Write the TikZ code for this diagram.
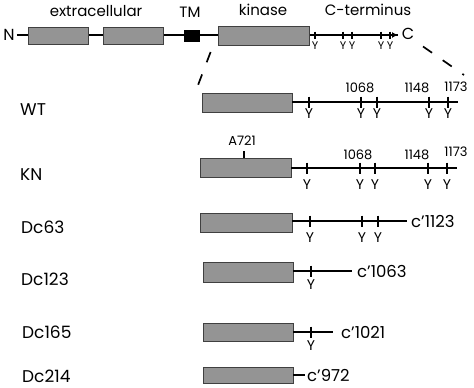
\documentclass[tikz,border=0pt]{standalone}
\usepackage{fontspec}
\setmainfont{Poppins}
\usetikzlibrary{arrows.meta}
\begin{document}
\begin{tikzpicture}[x=1pt,y=-1pt,
  dom/.style={draw=black!75,line width=0.6pt,fill=black!42,inner sep=0,minimum width=#1,minimum height=19},
  tmbox/.style={draw,fill=black,inner sep=0,minimum width=15,minimum height=11},
  chain/.style={line width=1.7pt},
  topchain/.style={line width=2.6pt},
  tk/.style={line width=1.6pt},
  lab/.style={font=\fontsize{17}{17}\selectfont,anchor=base west,inner sep=0,text depth=0pt},
  hdr/.style={font=\fontsize{15}{15}\selectfont,inner sep=0},
  num/.style={font=\fontsize{13}{13}\selectfont,inner sep=0},
  ylab/.style={font=\fontsize{14}{14}\selectfont,inner sep=0},
  ytop/.style={font=\fontsize{11}{11}\selectfont,inner sep=0},
  cterm/.style={font=\fontsize{16.5}{16.5}\selectfont,anchor=west,inner sep=0},
  zoomline/.style={line width=1.7pt,dash pattern=on 11pt off 13pt}
]
\useasboundingbox (0,0) rectangle (474,388);

% ---------- top full-length receptor ----------
\node[hdr] (hext) at (96,11) {extracellular};
\node[hdr] (htm) at (190,12) {TM};
\node[hdr] (hkin) at (263,10) {kinase};
\node[hdr] (hct) at (368,10) {C-terminus};
\node[hdr,font=\fontsize{16}{16}\selectfont] (nterm) at (9,35) {N};
\node[hdr,font=\fontsize{16}{16}\selectfont] (cend) at (408,34) {C};
\coordinate (topend) at (398,35);
\draw[topchain] (nterm.east) ++(2,0) coordinate (topstart) -- (topend);
\draw[topchain,-{Latex[length=6pt,width=6pt]}] (385,35) -- (topend);
\node[dom=60,minimum height=17] (ex1) at (58,35.5) {};
\node[dom=60,minimum height=17] (ex2) at (133,36) {};
\node[tmbox] (tm) at (191.5,35.5) {};
\node[dom=91] (kin) at (263.5,35.5) {};
\foreach \x/\n in {315/a,343/b,352/c,381/d,390/e}{
  \draw[tk,line width=1.3pt] (\x,31.5) -- (\x,38.5);
  \node[ytop] (ty\n) at (\x,46) {Y};
}
% zoom lines
\coordinate (zl1) at (210.6,52);
\coordinate (zl2) at (197.3,87);
\draw[zoomline] (zl1) -- (zl2);
\coordinate (zr1) at (423,46.5);
\coordinate (zr2) at (464,75);
\draw[zoomline] (zr1) -- (zr2);

% ---------- WT ----------
\node[lab] (lwt) at (20,115) {WT};
\node[dom=90] (bwt) at (247,102.5) {};
\coordinate (ewt) at (458,102);
\draw[chain] (bwt.east |- ewt) -- (ewt);
\foreach \x/\n in {309/a,361/b,377/c,429/d,448/e}{
  \draw[tk] (\x,96.5) -- (\x,107.5);
  \node[ylab] (wy\n) at (\x,114) {Y};
}
\node[num] (w1068) at (360,88) {1068};
\node[num] (w1148) at (417,88) {1148};
\node[num] (w1173) at (456,87) {1173};

% ---------- KN ----------
\node[lab] (lkn) at (20,180) {KN};
\node[dom=91] (bkn) at (245.5,167.5) {};
\coordinate (ekn) at (457,168);
\draw[chain] (bkn.east |- ekn) -- (ekn);
\coordinate (a721) at (244,151);
\draw[tk] (bkn.north -| a721) -- (a721);
\node[num] (la721) at (242,141) {A721};
\foreach \x/\n in {307/a,360/b,375/c,428/d,447/e}{
  \draw[tk] (\x,162.5) -- (\x,173.5);
  \node[ylab] (ky\n) at (\x,185) {Y};
}
\node[num] (k1068) at (358,155) {1068};
\node[num] (k1148) at (417,155) {1148};
\node[num] (k1173) at (456,152) {1173};

% ---------- Dc63 ----------
\node[lab] (ld63) at (21,233.5) {Dc63};
\node[dom=92] (b63) at (246,222.5) {};
\node[cterm] (c63) at (411,221) {c\textquoteright1123};
\draw[chain] (b63.east |- c63.west) -- ++(115,0) coordinate (e63);
\foreach \x/\n in {310/a,362/b,378/c}{
  \draw[tk] (\x,215.5) -- (\x,226.5);
  \node[ylab] (sy\n) at (\x,238) {Y};
}

% ---------- Dc123 ----------
\node[lab] (ld123) at (21,285.5) {Dc123};
\node[dom=90,minimum height=20] (b123) at (248,272) {};
\node[cterm] (c123) at (357,271) {c\textquoteright1063};
\draw[chain] (b123.east |- c123.west) -- ++(59,0) coordinate (e123);
\draw[tk] (311,265.5) -- (311,276.5);
\node[ylab] (ty123) at (311,285) {Y};

% ---------- Dc165 ----------
\node[lab] (ld165) at (22,338.5) {Dc165};
\node[dom=90,minimum height=18] (b165) at (248,332) {};
\node[cterm] (c165) at (341,332) {c\textquoteright1021};
\draw[chain] (b165.east |- c165.west) -- ++(40,0) coordinate (e165);
\draw[tk] (311,326.5) -- (311,337.5);
\node[ylab] (ty165) at (311,346) {Y};

% ---------- Dc214 ----------
\node[lab] (ld214) at (22,382.5) {Dc214};
\node[dom=90,minimum height=16] (b214) at (248,375) {};
\node[cterm] (c214) at (307,375) {c\textquoteright972};
\draw[chain] (b214.east |- c214.west) -- ++(12,0) coordinate (e214);
\end{tikzpicture}
\end{document}
